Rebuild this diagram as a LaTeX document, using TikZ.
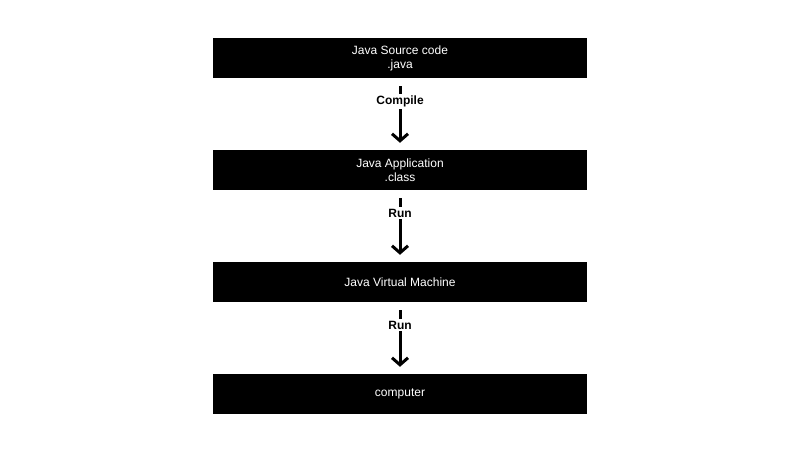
\documentclass[tikz,border=0pt]{standalone}
\usepackage{fontspec}
\setmainfont{Liberation Sans}
\usetikzlibrary{arrows.meta}
\begin{document}
\begin{tikzpicture}[x=1pt,y=-1pt,
  box/.style={fill=black,text=white,minimum width=374pt,minimum height=40pt,inner sep=0pt,align=center,font=\fontsize{12}{14}\selectfont},
  flow/.style={line width=3pt,-{Straight Barb[length=7pt,width=16pt,line width=3pt]},shorten <=8pt,shorten >=7pt},
  lbl/.style={fill=white,inner sep=2pt,font=\bfseries\fontsize{12}{14}\selectfont}]
\useasboundingbox (0,0) rectangle (800,450);
\node[box] (a) at (400,58) {Java Source code\\.java};
\node[box] (b) at (400,170) {Java Application\\.class};
\node[box] (c) at (400,282) {Java Virtual Machine};
\node[box] (d) at (400,394) {computer};
\draw[flow] (a.south) -- node[lbl,pos=0.32] {Compile} (b.north);
\draw[flow] (b.south) -- node[lbl,pos=0.32] {Run} (c.north);
\draw[flow] (c.south) -- node[lbl,pos=0.32] {Run} (d.north);
\end{tikzpicture}
\end{document}
